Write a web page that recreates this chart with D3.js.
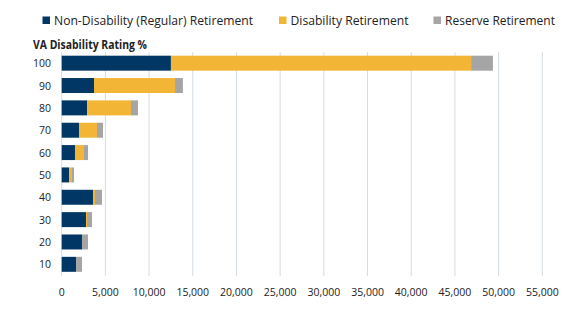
<!DOCTYPE html>
<html>
<head>
<meta charset="utf-8">
<script src="https://cdn.jsdelivr.net/npm/d3@7/dist/d3.min.js"></script>
<style>
  body { margin: 0; background: #fff; }
  svg { display: block; }
  text { font-family: "Open Sans", "Noto Sans", sans-serif; fill: #222; }
</style>
</head>
<body>
<svg id="chart" width="576" height="311"></svg>
<script>
const categories = ["100", "90", "80", "70", "60", "50", "40", "30", "20", "10"];
const seriesNames = ["Non-Disability (Regular) Retirement", "Disability Retirement", "Reserve Retirement"];
const nonDisability = [12500, 3700, 2900, 1980, 1520, 840, 3580, 2780, 2320, 1640];
const disability =    [34350, 9270, 5030, 2060, 1030, 340, 230, 120, 0, 0];
const reserve =       [2500, 900, 800, 690, 460, 230, 800, 570, 690, 680];
const xTicks = [0, 5000, 10000, 15000, 20000, 25000, 30000, 35000, 40000, 45000, 50000, 55000];
const colors = ["#003764", "#F2B535", "#A5A5A5"];

const svg = d3.select("#chart");

const x = d3.scaleLinear().domain([0, 55000]).range([61.7, 542.3]);
const y = d3.scaleBand().domain(categories).range([52, 275.5]).paddingInner(0.33).paddingOuter(0.165);

// gridlines
svg.append("g").selectAll("line").data(xTicks).join("line")
  .attr("x1", d => x(d)).attr("x2", d => x(d))
  .attr("y1", 52).attr("y2", 276)
  .attr("stroke", "#D3DCE3").attr("stroke-width", 1);

// x tick labels
svg.append("g").selectAll("text").data(xTicks).join("text")
  .attr("x", d => x(d)).attr("y", 296)
  .attr("text-anchor", "middle")
  .attr("font-size", "10.5px")
  .text(d => d3.format(",")(d));

// y tick labels
svg.append("g").selectAll("text").data(categories).join("text")
  .attr("x", 51).attr("y", d => y(d) + y.bandwidth() / 2 + 4)
  .attr("text-anchor", "end")
  .attr("font-size", "10.5px")
  .text(d => d);

// stacked data
const rows = categories.map((c, i) => ({ cat: c, s0: nonDisability[i], s1: disability[i], s2: reserve[i] }));
const stack = d3.stack().keys(["s0", "s1", "s2"])(rows);

svg.append("g").selectAll("g").data(stack).join("g")
  .attr("fill", (d, i) => colors[i])
  .selectAll("rect").data(d => d).join("rect")
  .attr("x", d => x(d[0]))
  .attr("width", d => Math.max(0, x(d[1]) - x(d[0])))
  .attr("y", d => y(d.data.cat))
  .attr("height", y.bandwidth());

// axis title
svg.append("text")
  .attr("x", 33).attr("y", 48.5)
  .attr("font-size", "11.5px").attr("font-weight", "bold")
  .attr("textLength", 114).attr("lengthAdjust", "spacingAndGlyphs")
  .text("VA Disability Rating %");

// legend
const legendX = [42.5, 279, 433.5];
const legendW = [199, 118, 110];
const lg = svg.append("g").selectAll("g").data(seriesNames).join("g")
  .attr("transform", (d, i) => `translate(${legendX[i]},0)`);
lg.append("rect").attr("x", 0).attr("y", 16.5).attr("width", 7.5).attr("height", 7.5)
  .attr("fill", (d, i) => colors[i]);
lg.append("text").attr("x", 11.5).attr("y", 24.5)
  .attr("font-size", "12.5px")
  .attr("textLength", (d, i) => legendW[i]).attr("lengthAdjust", "spacingAndGlyphs")
  .text(d => d);
</script>
</body>
</html>
